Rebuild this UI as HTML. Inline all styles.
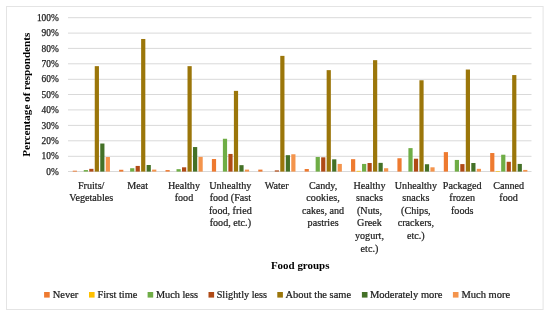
<!DOCTYPE html>
<html><head><meta charset="utf-8"><style>
html,body{margin:0;padding:0;background:#fff;}
body{width:550px;height:317px;overflow:hidden;}
svg{display:block;will-change:transform;}
.lg{font-family:"Liberation Serif",serif;font-size:9.3px;fill:#222;stroke:#222;stroke-width:0.22px;}
.yl{font-family:"Liberation Serif",serif;font-size:9.4px;fill:#222;stroke:#222;stroke-width:0.25px;}
.ax{font-family:"Liberation Serif",serif;font-size:9.75px;fill:#222;stroke:#222;stroke-width:0.22px;}
.ti{font-family:"Liberation Serif",serif;font-size:10.5px;font-weight:bold;fill:#000;}
</style></head><body>
<svg width="550" height="317" viewBox="0 0 550 317">
<rect x="6.5" y="6.5" width="536.6" height="303" fill="#fff" stroke="#E4E4E4" stroke-width="1"/>
<line x1="68.0" y1="171.50" x2="531.5" y2="171.50" stroke="#D9D9D9" stroke-width="1"/>
<line x1="68.0" y1="156.30" x2="531.5" y2="156.30" stroke="#D9D9D9" stroke-width="1"/>
<line x1="68.0" y1="140.80" x2="531.5" y2="140.80" stroke="#D9D9D9" stroke-width="1"/>
<line x1="68.0" y1="125.40" x2="531.5" y2="125.40" stroke="#D9D9D9" stroke-width="1"/>
<line x1="68.0" y1="109.90" x2="531.5" y2="109.90" stroke="#D9D9D9" stroke-width="1"/>
<line x1="68.0" y1="94.50" x2="531.5" y2="94.50" stroke="#D9D9D9" stroke-width="1"/>
<line x1="68.0" y1="79.30" x2="531.5" y2="79.30" stroke="#D9D9D9" stroke-width="1"/>
<line x1="68.0" y1="63.80" x2="531.5" y2="63.80" stroke="#D9D9D9" stroke-width="1"/>
<line x1="68.0" y1="48.40" x2="531.5" y2="48.40" stroke="#D9D9D9" stroke-width="1"/>
<line x1="68.0" y1="33.10" x2="531.5" y2="33.10" stroke="#D9D9D9" stroke-width="1"/>
<line x1="68.0" y1="17.70" x2="531.5" y2="17.70" stroke="#D9D9D9" stroke-width="1"/>
<rect x="72.75" y="170.69" width="4.2" height="0.91" fill="#EE7A30"/>
<rect x="83.75" y="170.07" width="4.2" height="1.53" fill="#6FAD46"/>
<rect x="89.25" y="168.84" width="4.2" height="2.76" fill="#B04A16"/>
<rect x="94.75" y="66.15" width="4.2" height="105.45" fill="#9B760A"/>
<rect x="100.25" y="143.52" width="4.2" height="28.08" fill="#447127"/>
<rect x="105.75" y="157.02" width="4.2" height="14.58" fill="#F4944C"/>
<rect x="119.13" y="169.77" width="4.2" height="1.83" fill="#EE7A30"/>
<rect x="130.13" y="168.23" width="4.2" height="3.37" fill="#6FAD46"/>
<rect x="135.63" y="165.93" width="4.2" height="5.67" fill="#B04A16"/>
<rect x="141.13" y="38.98" width="4.2" height="132.62" fill="#9B760A"/>
<rect x="146.63" y="165.01" width="4.2" height="6.59" fill="#447127"/>
<rect x="152.13" y="169.61" width="4.2" height="1.99" fill="#F4944C"/>
<rect x="165.51" y="170.07" width="4.2" height="1.53" fill="#EE7A30"/>
<rect x="176.51" y="169.15" width="4.2" height="2.45" fill="#6FAD46"/>
<rect x="182.01" y="167.31" width="4.2" height="4.29" fill="#B04A16"/>
<rect x="187.51" y="66.15" width="4.2" height="105.45" fill="#9B760A"/>
<rect x="193.01" y="147.05" width="4.2" height="24.55" fill="#447127"/>
<rect x="198.51" y="156.87" width="4.2" height="14.73" fill="#F4944C"/>
<rect x="211.89" y="159.02" width="4.2" height="12.58" fill="#EE7A30"/>
<rect x="222.89" y="138.76" width="4.2" height="32.84" fill="#6FAD46"/>
<rect x="228.39" y="153.95" width="4.2" height="17.65" fill="#B04A16"/>
<rect x="233.89" y="90.87" width="4.2" height="80.73" fill="#9B760A"/>
<rect x="239.39" y="165.16" width="4.2" height="6.44" fill="#447127"/>
<rect x="244.89" y="169.61" width="4.2" height="1.99" fill="#F4944C"/>
<rect x="258.27" y="169.61" width="4.2" height="1.99" fill="#EE7A30"/>
<rect x="274.77" y="170.38" width="4.2" height="1.22" fill="#B04A16"/>
<rect x="280.27" y="55.87" width="4.2" height="115.73" fill="#9B760A"/>
<rect x="285.77" y="155.18" width="4.2" height="16.42" fill="#447127"/>
<rect x="291.27" y="154.26" width="4.2" height="17.34" fill="#F4944C"/>
<rect x="304.65" y="169.00" width="4.2" height="2.60" fill="#EE7A30"/>
<rect x="315.65" y="157.02" width="4.2" height="14.58" fill="#6FAD46"/>
<rect x="321.15" y="157.33" width="4.2" height="14.27" fill="#B04A16"/>
<rect x="326.65" y="70.14" width="4.2" height="101.46" fill="#9B760A"/>
<rect x="332.15" y="159.33" width="4.2" height="12.27" fill="#447127"/>
<rect x="337.65" y="163.93" width="4.2" height="7.67" fill="#F4944C"/>
<rect x="351.03" y="159.17" width="4.2" height="12.43" fill="#EE7A30"/>
<rect x="356.53" y="170.84" width="4.2" height="0.76" fill="#FFC000"/>
<rect x="362.03" y="163.93" width="4.2" height="7.67" fill="#6FAD46"/>
<rect x="367.53" y="163.01" width="4.2" height="8.59" fill="#B04A16"/>
<rect x="373.03" y="60.17" width="4.2" height="111.43" fill="#9B760A"/>
<rect x="378.53" y="162.86" width="4.2" height="8.74" fill="#447127"/>
<rect x="384.03" y="168.23" width="4.2" height="3.37" fill="#F4944C"/>
<rect x="397.41" y="158.25" width="4.2" height="13.35" fill="#EE7A30"/>
<rect x="408.41" y="148.12" width="4.2" height="23.48" fill="#6FAD46"/>
<rect x="413.91" y="158.71" width="4.2" height="12.89" fill="#B04A16"/>
<rect x="419.41" y="80.27" width="4.2" height="91.33" fill="#9B760A"/>
<rect x="424.91" y="164.24" width="4.2" height="7.36" fill="#447127"/>
<rect x="430.41" y="167.31" width="4.2" height="4.29" fill="#F4944C"/>
<rect x="443.79" y="152.11" width="4.2" height="19.49" fill="#EE7A30"/>
<rect x="454.79" y="159.94" width="4.2" height="11.66" fill="#6FAD46"/>
<rect x="460.29" y="164.09" width="4.2" height="7.51" fill="#B04A16"/>
<rect x="465.79" y="69.53" width="4.2" height="102.07" fill="#9B760A"/>
<rect x="471.29" y="163.01" width="4.2" height="8.59" fill="#447127"/>
<rect x="476.79" y="168.84" width="4.2" height="2.76" fill="#F4944C"/>
<rect x="490.17" y="153.03" width="4.2" height="18.57" fill="#EE7A30"/>
<rect x="495.67" y="170.99" width="4.2" height="0.61" fill="#FFC000"/>
<rect x="501.17" y="154.72" width="4.2" height="16.88" fill="#6FAD46"/>
<rect x="506.67" y="161.78" width="4.2" height="9.82" fill="#B04A16"/>
<rect x="512.17" y="75.06" width="4.2" height="96.54" fill="#9B760A"/>
<rect x="517.67" y="163.93" width="4.2" height="7.67" fill="#447127"/>
<rect x="523.17" y="169.92" width="4.2" height="1.68" fill="#F4944C"/>
<text x="58.8" y="174.60" text-anchor="end" class="yl">0%</text>
<text x="58.8" y="159.40" text-anchor="end" class="yl">10%</text>
<text x="58.8" y="143.90" text-anchor="end" class="yl">20%</text>
<text x="58.8" y="128.50" text-anchor="end" class="yl">30%</text>
<text x="58.8" y="113.00" text-anchor="end" class="yl">40%</text>
<text x="58.8" y="97.60" text-anchor="end" class="yl">50%</text>
<text x="58.8" y="82.40" text-anchor="end" class="yl">60%</text>
<text x="58.8" y="66.90" text-anchor="end" class="yl">70%</text>
<text x="58.8" y="51.50" text-anchor="end" class="yl">80%</text>
<text x="58.8" y="36.20" text-anchor="end" class="yl">90%</text>
<text x="58.8" y="20.80" text-anchor="end" class="yl">100%</text>
<text transform="translate(30.2,94.8) rotate(-90)" text-anchor="middle" class="ti" style="font-size:11.4px" textLength="124" lengthAdjust="spacingAndGlyphs">Percentage of respondents</text>
<text transform="translate(91.19,188.80) scale(1.04,1)" text-anchor="middle" class="ax">Fruits/</text>
<text transform="translate(91.19,201.35) scale(1.04,1)" text-anchor="middle" class="ax">Vegetables</text>
<text transform="translate(137.57,188.80) scale(1.04,1)" text-anchor="middle" class="ax">Meat</text>
<text transform="translate(183.95,188.80) scale(1.04,1)" text-anchor="middle" class="ax">Healthy</text>
<text transform="translate(183.95,201.35) scale(1.04,1)" text-anchor="middle" class="ax">food</text>
<text transform="translate(230.33,188.80) scale(1.04,1)" text-anchor="middle" class="ax">Unhealthy</text>
<text transform="translate(230.33,201.35) scale(1.04,1)" text-anchor="middle" class="ax">food (Fast</text>
<text transform="translate(230.33,213.90) scale(1.04,1)" text-anchor="middle" class="ax">food, fried</text>
<text transform="translate(230.33,226.45) scale(1.04,1)" text-anchor="middle" class="ax">food, etc.)</text>
<text transform="translate(276.71,188.80) scale(1.04,1)" text-anchor="middle" class="ax">Water</text>
<text transform="translate(323.09,188.80) scale(1.04,1)" text-anchor="middle" class="ax">Candy,</text>
<text transform="translate(323.09,201.35) scale(1.04,1)" text-anchor="middle" class="ax">cookies,</text>
<text transform="translate(323.09,213.90) scale(1.04,1)" text-anchor="middle" class="ax">cakes, and</text>
<text transform="translate(323.09,226.45) scale(1.04,1)" text-anchor="middle" class="ax">pastries</text>
<text transform="translate(369.47,188.80) scale(1.04,1)" text-anchor="middle" class="ax">Healthy</text>
<text transform="translate(369.47,201.35) scale(1.04,1)" text-anchor="middle" class="ax">snacks</text>
<text transform="translate(369.47,213.90) scale(1.04,1)" text-anchor="middle" class="ax">(Nuts,</text>
<text transform="translate(369.47,226.45) scale(1.04,1)" text-anchor="middle" class="ax">Greek</text>
<text transform="translate(369.47,239.00) scale(1.04,1)" text-anchor="middle" class="ax">yogurt,</text>
<text transform="translate(369.47,251.55) scale(1.04,1)" text-anchor="middle" class="ax">etc.)</text>
<text transform="translate(415.85,188.80) scale(1.04,1)" text-anchor="middle" class="ax">Unhealthy</text>
<text transform="translate(415.85,201.35) scale(1.04,1)" text-anchor="middle" class="ax">snacks</text>
<text transform="translate(415.85,213.90) scale(1.04,1)" text-anchor="middle" class="ax">(Chips,</text>
<text transform="translate(415.85,226.45) scale(1.04,1)" text-anchor="middle" class="ax">crackers,</text>
<text transform="translate(415.85,239.00) scale(1.04,1)" text-anchor="middle" class="ax">etc.)</text>
<text transform="translate(462.23,188.80) scale(1.04,1)" text-anchor="middle" class="ax">Packaged</text>
<text transform="translate(462.23,201.35) scale(1.04,1)" text-anchor="middle" class="ax">frozen</text>
<text transform="translate(462.23,213.90) scale(1.04,1)" text-anchor="middle" class="ax">foods</text>
<text transform="translate(508.61,188.80) scale(1.04,1)" text-anchor="middle" class="ax">Canned</text>
<text transform="translate(508.61,201.35) scale(1.04,1)" text-anchor="middle" class="ax">food</text>
<text x="300.2" y="269.1" text-anchor="middle" class="ti" textLength="58.6" lengthAdjust="spacingAndGlyphs">Food groups</text>
<rect x="44.1" y="292.0" width="5.6" height="5.6" fill="#EE7A30"/>
<text x="52.7" y="297.7" class="lg" textLength="25.6" lengthAdjust="spacingAndGlyphs">Never</text>
<rect x="89.0" y="292.0" width="5.6" height="5.6" fill="#FFC000"/>
<text x="97.4" y="297.7" class="lg" textLength="40.0" lengthAdjust="spacingAndGlyphs">First time</text>
<rect x="147.6" y="292.0" width="5.6" height="5.6" fill="#6FAD46"/>
<text x="156.0" y="297.7" class="lg" textLength="41.9" lengthAdjust="spacingAndGlyphs">Much less</text>
<rect x="208.5" y="292.0" width="5.6" height="5.6" fill="#B04A16"/>
<text x="216.7" y="297.7" class="lg" textLength="50.3" lengthAdjust="spacingAndGlyphs">Slightly less</text>
<rect x="277.3" y="292.0" width="5.6" height="5.6" fill="#9B760A"/>
<text x="285.5" y="297.7" class="lg" textLength="65.6" lengthAdjust="spacingAndGlyphs">About the same</text>
<rect x="361.9" y="292.0" width="5.6" height="5.6" fill="#447127"/>
<text x="369.9" y="297.7" class="lg" textLength="72.6" lengthAdjust="spacingAndGlyphs">Moderately more</text>
<rect x="452.9" y="292.0" width="5.6" height="5.6" fill="#F4944C"/>
<text x="461.4" y="297.7" class="lg" textLength="48.7" lengthAdjust="spacingAndGlyphs">Much more</text>
</svg>
</body></html>
